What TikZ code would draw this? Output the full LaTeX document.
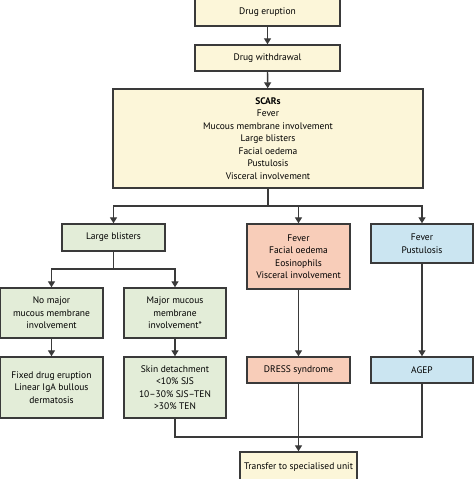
\documentclass[tikz,border=0pt]{standalone}
\usepackage{fontspec}
\setmainfont{PT Sans}
\usetikzlibrary{arrows.meta}
\definecolor{creambox}{HTML}{FCF6D9}
\definecolor{greenbox}{HTML}{E3EDD8}
\definecolor{salmonbox}{HTML}{F8CDB9}
\definecolor{bluebox}{HTML}{CBE5F1}
\definecolor{edgegray}{HTML}{3A3A3A}
\tikzset{
  flowbox/.style={draw=edgegray,line width=1.4pt,align=center,inner sep=0pt,
    font=\fontsize{9.5}{12.5}\selectfont},
  cream/.style={flowbox,fill=creambox},
  green/.style={flowbox,fill=greenbox},
  salmon/.style={flowbox,fill=salmonbox},
  blue/.style={flowbox,fill=bluebox},
  arr/.style={draw=edgegray,line width=1.3pt,-{Triangle[width=7pt,length=6pt]}},
  link/.style={draw=edgegray,line width=1.3pt}
}
\begin{document}
\begin{tikzpicture}[x=1pt,y=-1pt]
\clip (0,0) rectangle (474,479);
\fill[white] (0,0) rectangle (474,479);
% top column
\node[cream,minimum width=145pt,minimum height=28pt] (erupt) at (267.5,12) {Drug eruption};
\node[cream,minimum width=145pt,minimum height=26pt] (withdraw) at (267.5,58) {Drug withdrawal};
\node[cream,minimum width=310pt,minimum height=99pt] (scars) at (268,138.5)
  {\textbf{SCARs}\\Fever\\Mucous membrane involvement\\Large blisters\\Facial oedema\\Pustulosis\\Visceral involvement};
% second row
\node[green,minimum width=103pt,minimum height=27pt] (blisters) at (113.5,237.5) {Large blisters};
\node[salmon,minimum width=103pt,minimum height=65pt] (dressin) at (298.5,256.5)
  {Fever\\Facial oedema\\Eosinophils\\Visceral involvement};
\node[blue,minimum width=102pt,minimum height=39pt] (agepin) at (422,243.5) {Fever\\Pustulosis};
% blister branches
\node[green,minimum width=103pt,minimum height=50pt] (nomajor) at (51.5,313)
  {No major\\mucous membrane\\involvement};
\node[green,minimum width=102pt,minimum height=50pt] (major) at (175,313)
  {Major mucous\\membrane\\involvement*};
% outcomes
\node[green,minimum width=103pt,minimum height=61pt] (fixed) at (51.5,387.5)
  {Fixed drug eruption\\Linear IgA bullous\\dermatosis};
\node[green,minimum width=102pt,minimum height=61pt] (skin) at (175,387.5)
  {Skin detachment\\{<}10\% SJS\\10--30\% SJS--TEN\\{>}30\% TEN};
\node[salmon,minimum width=103pt,minimum height=26pt] (dress) at (298.5,370) {DRESS syndrome};
\node[blue,minimum width=102pt,minimum height=26pt] (agep) at (422,370) {AGEP};
\node[cream,minimum width=117pt,minimum height=30pt] (transfer) at (298.5,467) {Transfer to specialised unit};
% junctions
\coordinate (splitA) at (268,206);
\coordinate (splitB) at (113.5,269);
\coordinate (joinC) at (298.5,437);
% connectors
\draw[arr] (erupt) -- (withdraw);
\draw[arr] (withdraw) -- (scars);
\draw[link] (scars) -- (splitA);
\draw[arr] (splitA) -| (blisters);
\draw[arr] (splitA) -| (dressin);
\draw[arr] (splitA) -| (agepin);
\draw[link] (blisters) -- (splitB);
\draw[arr] (splitB) -| (nomajor);
\draw[arr] (splitB) -| (major);
\draw[arr] (nomajor) -- (fixed);
\draw[arr] (major) -- (skin);
\draw[arr] (dressin) -- (dress);
\draw[arr] (agepin) -- (agep);
\draw[link] (skin) |- (joinC) -| (agep);
\draw[arr] (dress) -- (transfer);
\end{tikzpicture}
\end{document}
